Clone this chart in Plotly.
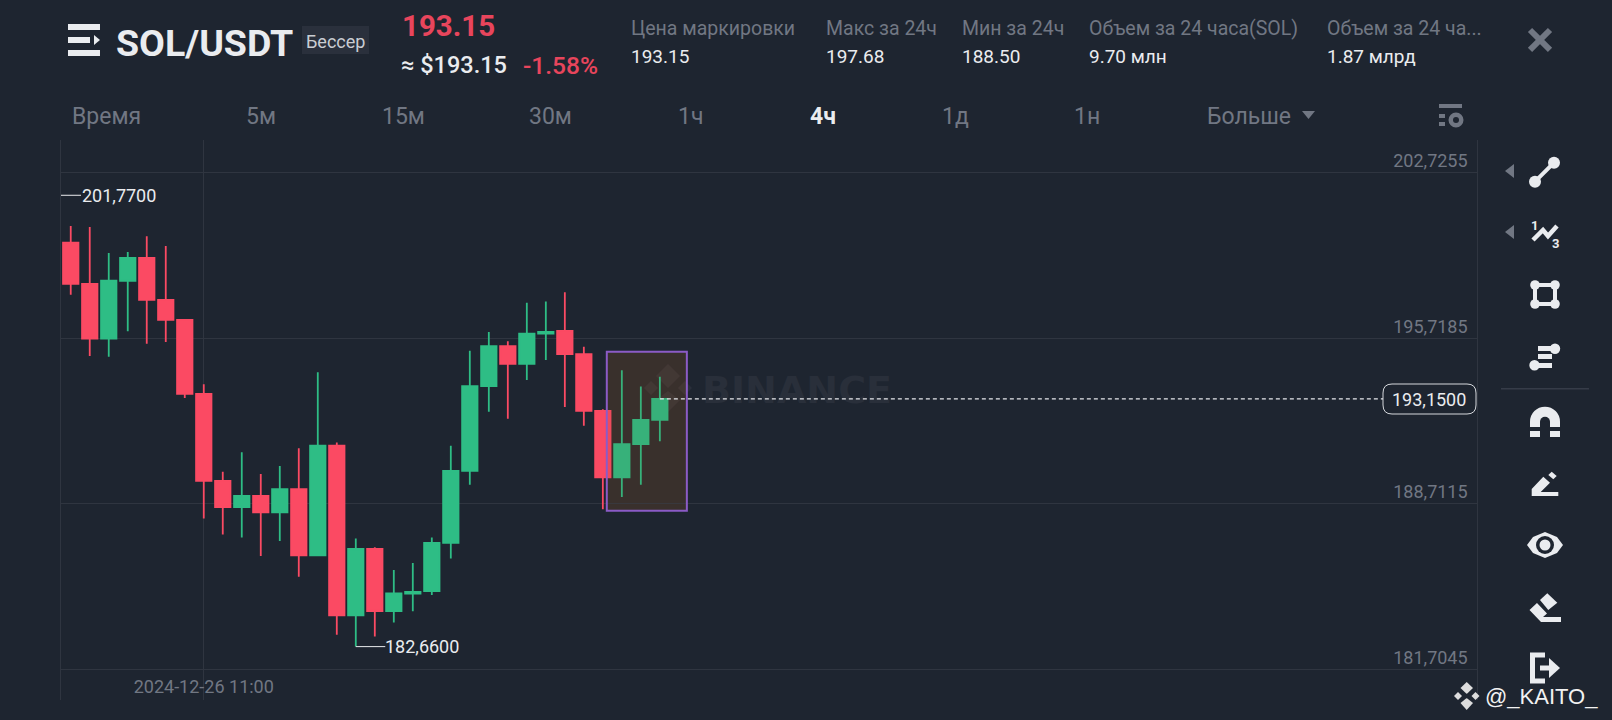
import plotly.graph_objects as go
import pandas as pd

# ---------- data ----------
start_time = "2024-12-25 07:00"
opens = [199.76, 198.02, 195.70, 198.15, 199.12, 197.34, 196.49, 193.36, 189.68, 188.57, 189.04, 188.35, 189.33, 186.52, 191.17, 183.98,
         186.80, 184.16, 184.91, 185.01, 187.05, 190.10, 193.69, 195.38, 194.63, 195.91, 196.03, 195.04, 192.64, 189.83, 191.23, 192.26]
highs = [200.47, 200.43, 199.33, 199.37, 200.03, 199.62, 196.49, 193.77, 190.06, 190.89, 189.97, 190.31, 191.06, 194.28, 191.30, 187.24,
         186.87, 185.90, 186.20, 187.28, 191.17, 195.19, 195.98, 195.59, 197.22, 197.27, 197.66, 195.36, 192.71, 194.36, 193.67, 194.09]
lows = [197.56, 194.97, 194.93, 196.01, 195.48, 195.56, 193.19, 188.08, 187.41, 187.28, 186.50, 187.13, 185.62, 186.52, 183.16, 182.66,
        183.09, 183.68, 184.16, 184.85, 186.39, 189.51, 192.60, 192.31, 193.95, 194.80, 192.81, 192.01, 188.48, 188.99, 189.51, 191.36]
closes = [198.02, 195.70, 198.15, 199.12, 197.34, 196.49, 193.36, 189.68, 188.57, 189.04, 188.35, 189.33, 186.52, 191.17, 183.98, 186.80,
          184.16, 184.91, 184.98, 187.05, 190.10, 193.69, 195.38, 194.63, 195.91, 195.98, 195.04, 192.64, 189.83, 191.23, 192.26, 193.15]
y_ticks = [202.7255, 195.7185, 188.7115, 181.7045]
y_tick_labels = ["202,7255", "195,7185", "188,7115", "181,7045"]
x_tick = "2024-12-26 11:00"
high_mark, high_label = 201.77, "201,7700"
low_mark, low_label = 182.66, "182,6600"
last_price, last_label = 193.15, "193,1500"
box_x = ["2024-12-29 23:50", "2024-12-30 16:41"]
box_y = [188.41, 195.14]
x_window = ["2024-12-25 04:57", "2025-01-06 15:00"]
y_window = [180.40, 204.11]

stats = [("Цена маркировки", "193.15", 630), ("Макс за 24ч", "197.68", 825), ("Мин за 24ч", "188.50", 961),
         ("Объем за 24 часа(SOL)", "9.70 млн", 1088), ("Объем за 24 ча...", "1.87 млрд", 1326)]
tabs = [("Время", 106), ("5м", 261), ("15м", 404), ("30м", 550), ("1ч", 690), ("4ч", 823), ("1д", 955), ("1н", 1087), ("Больше", 1249)]

# ---------- style ----------
W, H = 1612, 720
BG = "#1E2530"
GRID = "#2F3540"
GREY = "#717783"
LIGHT = "#EAECEF"
RED = "#FB4A63"
GREEN = "#2EBD85"
TXT_RED = "#E8455C"
FONT = "Roboto"


def X(x):
    return x / W


def Y(y):
    return 1 - y / H


times = pd.date_range(start_time, periods=len(opens), freq="4h")

fig = go.Figure(go.Candlestick(
    x=times, open=opens, high=highs, low=lows, close=closes, whiskerwidth=0,
    increasing=dict(line=dict(color=GREEN, width=1.8), fillcolor=GREEN),
    decreasing=dict(line=dict(color=RED, width=1.8), fillcolor=RED),
    hoverinfo="skip", showlegend=False))

shapes = []
annotations = []


def text(x, y, s, size=20, color=GREY, anchor="left", bold=False, font=FONT, weight=None):
    f = dict(family=font, size=size, color=color)
    if weight:
        f["weight"] = weight
    annotations.append(dict(x=X(x), y=Y(y), xref="paper", yref="paper", text=f"<b>{s}</b>" if bold else s,
                            showarrow=False, xanchor=anchor, yanchor="middle", align=anchor, borderpad=0, font=f))


def pts(points):
    return "M" + " L".join(f"{X(a):.5f},{Y(b):.5f}" for a, b in points)


def poly(points, color=LIGHT, layer="above"):
    shapes.append(dict(type="path", path=pts(points) + " Z", xref="paper", yref="paper", fillcolor=color,
                       line=dict(width=0), layer=layer))


def stroke(points, width=4, color=LIGHT):
    shapes.append(dict(type="path", path=pts(points), xref="paper", yref="paper",
                       line=dict(color=color, width=width), layer="above"))


def circle(cx, cy, r, color=LIGHT):
    shapes.append(dict(type="circle", xref="paper", yref="paper", x0=X(cx - r), x1=X(cx + r), y0=Y(cy + r), y1=Y(cy - r),
                       fillcolor=color, line=dict(width=0), layer="above"))


def rect(x0, y0, x1, y1, color=LIGHT):
    poly([(x0, y0), (x1, y0), (x1, y1), (x0, y1)], color)


# ---------- header ----------
rect(68, 24, 100, 30)
rect(68, 37, 90, 43)
poly([(94, 35), (100, 40), (94, 45)])
rect(68, 50, 100, 56)
text(115, 43, "SOL/USDT", 37.5, LIGHT, bold=True)
rect(302, 26, 369, 54, "#2A303C")
text(335.5, 41, "Бессер", 18, "#C9CDD3", "center")
text(401, 26, "193.15", 29.5, TXT_RED, bold=True)
text(400, 65, "≈ $193.15", 23.5, LIGHT, weight=500)
text(522, 65, "-1.58%", 24.5, TXT_RED, weight=500)
for label, value, x in stats:
    text(x, 29, label, 19.5, GREY)
    text(x, 57, value, 19, LIGHT)
stroke([(1530, 30), (1550, 50)], 6, GREY)
stroke([(1550, 30), (1530, 50)], 6, GREY)
for label, x in tabs:
    if label == "4ч":
        text(x, 117, label, 23, LIGHT, "center", bold=True)
    else:
        text(x, 117, label, 23, GREY, "center")
poly([(1302, 111), (1315, 111), (1308.5, 119)], GREY)
rect(1439, 104, 1462, 108, GREY)
rect(1439, 114, 1445, 118, GREY)
rect(1439, 122, 1445, 126, GREY)
circle(1456, 120, 7.5, GREY)
circle(1456, 120, 3, BG)

# chart watermark (behind the candles and the price line)
WM = "#292F3A"
poly([(668, 364), (680, 376), (668, 388), (656, 376)], WM, "below")
poly([(651, 381), (658, 388), (651, 395), (644, 388)], WM, "below")
poly([(685, 381), (692, 388), (685, 395), (678, 388)], WM, "below")
poly([(668, 391), (680, 400), (668, 412), (656, 400)], WM, "below")
shapes.append(dict(type="rect", xref="paper", yref="paper", x0=X(697), x1=X(897), y0=Y(407), y1=Y(367), layer="below",
                   line=dict(width=0), fillcolor="rgba(0,0,0,0)",
                   label=dict(text="<b>BINANCE</b>", textposition="middle center",
                              font=dict(family="DejaVu Sans", size=38, color=WM))))

# ---------- chart overlays ----------
shapes.append(dict(type="rect", xref="x", yref="y", x0=box_x[0], x1=box_x[1], y0=box_y[0], y1=box_y[1],
                   fillcolor="rgba(140,85,40,0.17)", line=dict(width=0), layer="below"))
shapes.append(dict(type="rect", xref="x", yref="y", x0=box_x[0], x1=box_x[1], y0=box_y[0], y1=box_y[1],
                   fillcolor="rgba(140,85,40,0.11)", line=dict(color="#8B5BC6", width=2), layer="above"))
shapes.append(dict(type="line", xref="x", yref="y", x0=times[-1], x1="2025-01-06 01:00", y0=last_price, y1=last_price,
                   line=dict(color="#E6E8EB", width=1.2, dash="4px,3px"), layer="above"))
# last price pill
x0, x1, y0, y1, r = 1383, 1476, 384, 414, 9
shapes.append(dict(type="path", xref="paper", yref="paper", fillcolor=BG, line=dict(color="#D5D8DC", width=1), layer="above",
                   path=f"M{X(x0 + r)},{Y(y0)} L{X(x1 - r)},{Y(y0)} Q{X(x1)},{Y(y0)} {X(x1)},{Y(y0 + r)} L{X(x1)},{Y(y1 - r)} "
                        f"Q{X(x1)},{Y(y1)} {X(x1 - r)},{Y(y1)} L{X(x0 + r)},{Y(y1)} Q{X(x0)},{Y(y1)} {X(x0)},{Y(y1 - r)} "
                        f"L{X(x0)},{Y(y0 + r)} Q{X(x0)},{Y(y0)} {X(x0 + r)},{Y(y0)} Z"))
text(1429, 399.5, last_label, 18, LIGHT, "center")

# hi / lo labels
annotations.append(dict(x=X(80), xref="paper", y=high_mark, yref="y", text=high_label, showarrow=False, xanchor="left",
                        yanchor="middle", font=dict(family=FONT, size=18, color=LIGHT)))
shapes.append(dict(type="line", xref="paper", yref="y", x0=X(61), x1=X(81), y0=high_mark, y1=high_mark,
                   line=dict(color=LIGHT, width=1), layer="above"))
annotations.append(dict(x=X(383), xref="paper", y=low_mark, yref="y", text=low_label, showarrow=False, xanchor="left",
                        yanchor="middle", font=dict(family=FONT, size=18, color=LIGHT)))
shapes.append(dict(type="line", xref="x", yref="y", x0=times[15], x1=times[15] + pd.Timedelta(hours=6.2), y0=low_mark, y1=low_mark,
                   line=dict(color=LIGHT, width=1), layer="above"))

# ---------- toolbar ----------
poly([(1514, 164), (1514, 178), (1505, 171)], GREY)
poly([(1514, 225), (1514, 239), (1505, 232)], GREY)
stroke([(1535, 181.7), (1554, 162.7)], 4)
circle(1535, 181.7, 6)
circle(1554, 162.7, 6)
stroke([(1533, 240), (1543, 230), (1548, 236), (1557, 226)], 4.5)
text(1534, 225, "1", 13, LIGHT, "center", True)
text(1555.5, 243, "3", 13, LIGHT, "center", True)
stroke([(1535, 285), (1555, 285), (1555, 304), (1535, 304), (1535, 285)], 4)
for cx, cy in [(1535, 285), (1555, 285), (1555, 304), (1535, 304)]:
    circle(cx, cy, 4.8)
rect(1538, 346, 1552, 351)
rect(1538, 354, 1552, 359)
rect(1538, 363, 1552, 368)
circle(1555, 348.7, 5.2)
circle(1534.5, 365.3, 5.2)
rect(1501, 388, 1589, 389.5, "#363C48")
# magnet
circle(1545, 421.7, 15)
rect(1530, 421.7, 1560, 437)
circle(1545, 421.7, 5, BG)
rect(1540, 421.7, 1550, 438, BG)
rect(1529, 427, 1561, 431, BG)
# pencil
poly([(1531.7, 496), (1558.3, 496), (1558.3, 492), (1540.7, 492), (1550, 482.7), (1543.3, 476.7), (1531.7, 489)])
poly([(1548.3, 475), (1551.7, 471.7), (1556.7, 476), (1553.3, 479.3)])
# eye
poly([(1527, 545), (1533, 537), (1545, 532), (1557, 537), (1563, 545), (1557, 553), (1545, 558), (1533, 553)])
circle(1545, 545, 9, BG)
circle(1545, 545, 5.5)
# eraser
poly([(1547.3, 593.3), (1557.3, 602.7), (1548.3, 610), (1540, 600)])
poly([(1529.5, 610), (1537, 603), (1547, 613.5), (1543, 617), (1561, 617), (1561, 622), (1541, 622)])
# exit
stroke([(1545, 655), (1532.5, 655), (1532.5, 681), (1545, 681)], 5)
stroke([(1540, 668), (1552, 668)], 5)
poly([(1549, 658), (1560, 668), (1549, 678)])
# bottom-right watermark
LOGO = "#DDDDDD"
poly([(1466.7, 682), (1473, 688), (1466.7, 694), (1460.5, 688)], LOGO)
poly([(1458, 692), (1462, 696), (1458, 700), (1454, 696)], LOGO)
poly([(1475.5, 692), (1479.5, 696), (1475.5, 700), (1471.5, 696)], LOGO)
poly([(1466.7, 698), (1473, 703), (1466.7, 710), (1460.5, 703)], LOGO)
circle(1466.7, 696, 2.2, BG)
text(1484, 696, "@_KAITO_", 22, "#F2F2F2", font="Liberation Sans")

axis_font = dict(family=FONT, size=18, color=GREY)
fig.update_layout(
    width=W, height=H, autosize=False, paper_bgcolor=BG, plot_bgcolor="rgba(0,0,0,0)",
    margin=dict(l=0, r=0, t=0, b=0, pad=0), showlegend=False, shapes=shapes, annotations=annotations,
    xaxis=dict(domain=[X(61), X(1477)], range=x_window, type="date", rangeslider=dict(visible=False), showline=False, zeroline=False,
               showgrid=True, gridcolor=GRID, gridwidth=1, tickmode="array", tickvals=[x_tick], ticktext=[x_tick],
               ticklabelposition="inside", ticks="", tickfont=axis_font, anchor="y"),
    yaxis=dict(domain=[Y(700), Y(140)], range=y_window, side="right", showline=True, mirror=True, linecolor=GRID, linewidth=1,
               zeroline=False, showgrid=True, gridcolor=GRID, gridwidth=1, tickmode="array", tickvals=y_ticks,
               ticktext=y_tick_labels, ticklabelposition="inside", ticks="", tickfont=axis_font, ticklabelstandoff=10,
               ticklabelshift=-12, anchor="x"),
    boxgap=0.19, boxgroupgap=0,
)

fig.write_html("out.html", config=dict(displayModeBar=False),
               post_script="document.body.style.margin='0';document.body.style.background='#1E2530';document.documentElement.style.overflow='hidden';")
